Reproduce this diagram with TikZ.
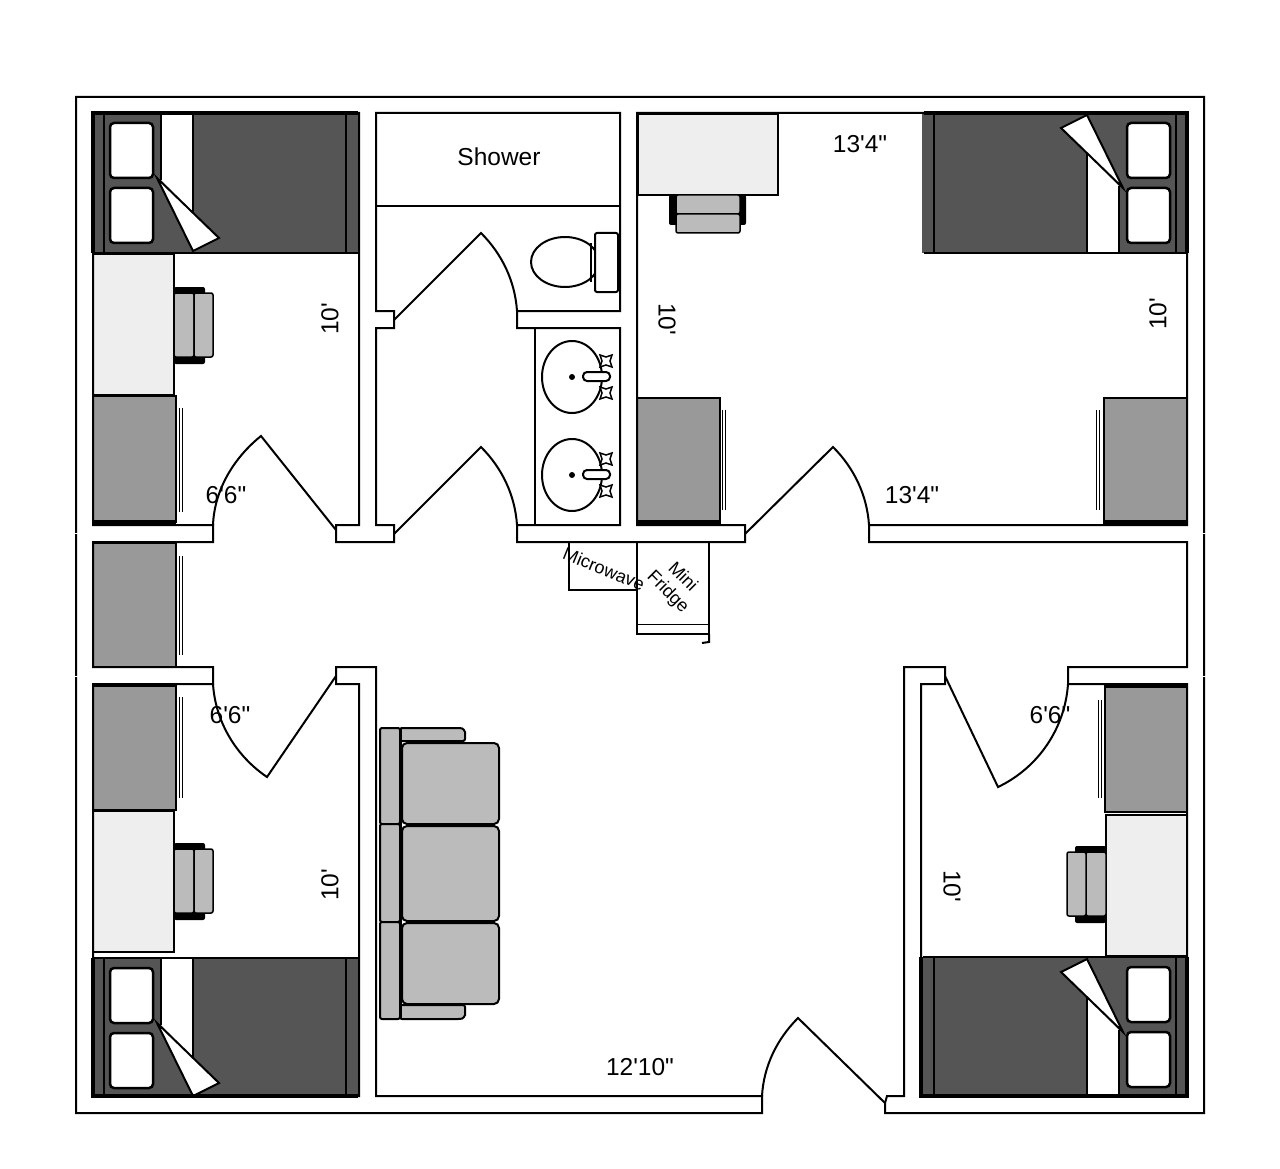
\documentclass[tikz,border=0pt]{standalone}
\usepackage{fontspec}
\usepackage{tikz}
\newfontfamily\plainfont{Liberation Sans}
\definecolor{bedgray}{HTML}{555555}
\definecolor{closetgray}{HTML}{999999}
\definecolor{seatgray}{HTML}{BBBBBB}
\definecolor{deskgray}{HTML}{EEEEEE}
\tikzset{
  wall/.style={draw=black, line width=2pt, miter limit=4},
  door/.style={draw=black, line width=2pt},
  bedbase/.style={fill=bedgray},
  bedline/.style={draw=black, line width=2pt},
  heavy/.style={draw=black, line width=3.5pt},
  pillow/.style={draw=black, fill=white, line width=2.5pt, rounded corners=4pt},
  fold/.style={draw=black, fill=white, line width=2pt, line join=miter},
  closet/.style={draw=black, fill=closetgray, line width=2.5pt},
  slide/.style={draw=black, line width=0.8pt},
  desk/.style={draw=black, fill=deskgray, line width=2pt},
  seat/.style={draw=black, fill=seatgray, line width=1.5pt, rounded corners=2pt},
  cushion/.style={draw=black, fill=seatgray, line width=2pt, rounded corners=5pt},
  fixture/.style={draw=black, fill=white, line width=2pt},
  dimtext/.style={font=\plainfont\fontsize{24.5}{28}\selectfont, inner sep=0pt},
  smalltext/.style={font=\plainfont\fontsize{18}{21}\selectfont, inner sep=0pt, align=center},
}
\newcommand{\bedunit}{
  \fill[bedbase] (93,113) rectangle (358,253);
  \fill[white] (161,113) -- (193,113) -- (193,213) -- (161,180) -- cycle;
  \draw[bedline] (161,113) -- (161,180);
  \draw[bedline] (193,113) -- (193,213);
  \draw[bedline] (104,113) -- (104,253);
  \draw[bedline] (346,113) -- (346,253);
  \draw[pillow] (110,123) rectangle (153,178);
  \draw[pillow] (110,188) rectangle (153,243);
  \draw[fold] (157,178) -- (219,238) -- (193,251) -- cycle;
}
\newcommand{\chairunit}{
  \fill[rounded corners=2pt] (174,287) rectangle (205,364);
  \draw[seat] (174,293) rectangle (194,357);
  \draw[seat] (194,293) rectangle (213,357);
}
\newcommand{\sinkunit}{
  \draw[fixture] (572,377) ellipse (30 and 36);
  \fill (572,377) circle (3);
  \draw[fixture, rounded corners=4pt] (583,372) rectangle (610,381);
  \draw[line width=1.5pt, fill=white] (600,355) -- (606,357) -- (612,355) -- (610,361) -- (612,367) -- (606,365) -- (600,367) -- (602,361) -- cycle;
  \draw[line width=1.5pt, fill=white] (600,387) -- (606,389) -- (612,387) -- (610,393) -- (612,399) -- (606,397) -- (600,399) -- (602,393) -- cycle;
}
\begin{document}
\begin{tikzpicture}[x=1pt, y=-1pt]
  \useasboundingbox (0,0) rectangle (1280,1169);

  \draw[closet] (93,396) rectangle (176,522);
  \draw[closet] (93,543) rectangle (176,667);
  \draw[closet] (93,685) rectangle (176,810);
  \draw[closet] (637,398) rectangle (720,523);
  \draw[closet] (1104,398) rectangle (1187,523);
  \draw[closet] (1105,686) rectangle (1187,812);
  \draw[heavy] (93,522) -- (176,522);
  \draw[heavy] (93,685) -- (176,685);
  \draw[heavy] (637,522) -- (720,522);
  \draw[heavy] (1104,522) -- (1187,522);
  \draw[heavy] (1105,686) -- (1187,686);
  \draw[slide] (179,408) -- (179,512);
  \draw[slide] (182,408) -- (182,512);
  \draw[slide] (179,556) -- (179,655);
  \draw[slide] (182,556) -- (182,655);
  \draw[slide] (179,697) -- (179,798);
  \draw[slide] (182,697) -- (182,798);
  \draw[slide] (722,410) -- (722,510);
  \draw[slide] (725,410) -- (725,510);
  \draw[slide] (1096,410) -- (1096,510);
  \draw[slide] (1099,410) -- (1099,510);
  \draw[slide] (1098,700) -- (1098,798);
  \draw[slide] (1101,700) -- (1101,798);

  \draw[desk] (93,254) rectangle (174,395);
  \draw[desk] (93,811) rectangle (174,952);
  \draw[desk] (638,114) rectangle (778,195);
  \draw[desk] (1106,815) rectangle (1187,956);

  \chairunit
  \begin{scope}[shift={(0,556)}]
    \chairunit
  \end{scope}
  \begin{scope}[shift={(1280,559)}, xscale=-1]
    \chairunit
  \end{scope}
  \fill[rounded corners=2pt] (669,195) rectangle (746,225);
  \draw[seat] (676,195) rectangle (740,214);
  \draw[seat] (676,214) rectangle (740,233);

  \bedunit
  \begin{scope}[shift={(0,845)}]
    \bedunit
  \end{scope}
  \begin{scope}[shift={(1280,366)}, rotate=180]
    \bedunit
  \end{scope}
  \begin{scope}[shift={(1280,1210)}, rotate=180]
    \bedunit
  \end{scope}
  \draw[bedline] (93,253) -- (358,253);
  \draw[bedline] (924,253) -- (1187,253);
  \draw[bedline] (93,958) -- (358,958);
  \draw[bedline] (923,957) -- (1187,957);
  \draw[heavy] (358,113) -- (93,113) -- (93,253);
  \draw[heavy] (924,113) -- (1187,113) -- (1187,253);
  \draw[heavy] (93,958) -- (93,1096) -- (358,1096);
  \draw[heavy] (921,957) -- (921,1096) -- (1187,1096) -- (1187,957);

  \draw[line width=1.5pt] (376,206) -- (620,206);
  \draw[fixture] (565,262) ellipse (34 and 25);
  \draw[line width=1.5pt] (591,243) -- (591,282);
  \draw[fixture, rounded corners=2pt] (595,233) rectangle (618,292);

  \draw[line width=2.5pt] (535,328) -- (535,525);
  \sinkunit
  \begin{scope}[shift={(0,98)}]
    \sinkunit
  \end{scope}

  \draw[line width=2pt] (569,543) -- (569,590) -- (637,590);
  \draw[line width=2pt] (637,543) -- (637,634) -- (709,634) -- (709,543);
  \draw[line width=0.8pt] (637,624) -- (709,624);
  \draw[line width=2pt] (709,634) -- (709,642) -- (702,643);

  \draw[seat, line width=2pt] (400,728) -- (460,728) to[bend left=40] (465,734) -- (465,741) -- (400,741) -- cycle;
  \draw[seat, line width=2pt] (400,1005) -- (465,1005) -- (465,1013) to[bend left=40] (460,1019) -- (400,1019) -- cycle;
  \draw[seat, line width=2pt] (380,728) rectangle (400,824);
  \draw[seat, line width=2pt] (380,824) rectangle (400,922);
  \draw[seat, line width=2pt] (380,922) rectangle (400,1019);
  \draw[line width=3pt] (400,728) -- (400,1019);
  \draw[cushion] (402,743) rectangle (499,824);
  \draw[cushion] (402,826) rectangle (499,921);
  \draw[cushion] (402,923) rectangle (499,1004);

  \draw[wall] (762,1113) -- (76,1113) -- (76,97) -- (1204,97) -- (1204,1113) -- (885,1113) -- (885,1103) -- (887,1096) -- (904,1096) -- (904,667) -- (945,667) -- (945,684) -- (921,684) -- (921,1096) -- (1187,1096) -- (1187,684) -- (1068,684) -- (1068,667) -- (1187,667) -- (1187,542) -- (869,542) -- (869,525) -- (1187,525) -- (1187,113) -- (637,113) -- (637,525) -- (745,525) -- (745,542) -- (517,542) -- (517,525) -- (620,525) -- (620,328) -- (517,328) -- (517,311) -- (620,311) -- (620,113) -- (376,113) -- (376,311) -- (394,311) -- (394,328) -- (376,328) -- (376,525) -- (394,525) -- (394,542) -- (336,542) -- (336,525) -- (359,525) -- (359,113) -- (93,113) -- (93,525) -- (213,525) -- (213,542) -- (93,542) -- (93,667) -- (213,667) -- (213,684) -- (93,684) -- (93,1096) -- (359,1096) -- (359,684) -- (336,684) -- (336,667) -- (376,667) -- (376,1096) -- (762,1096) -- cycle;
  \draw[white, line width=1pt] (74,533) -- (78,533);
  \draw[white, line width=1pt] (74,676) -- (78,676);
  \draw[white, line width=1pt] (1202,533) -- (1206,533);
  \draw[white, line width=1pt] (1202,676) -- (1206,676);

  \draw[door] (213,525) .. controls (214.4,490) and (233.6,458) .. (261,436) -- (336,530);
  \draw[door] (394,320) -- (481,233) .. controls (502,254) and (515,281) .. (517,311);
  \draw[door] (394,534) -- (481,447) .. controls (502,468) and (515,495) .. (517,525);
  \draw[door] (745,534) -- (833,447) .. controls (854,468) and (867,495) .. (869,525);
  \draw[door] (213,684) .. controls (215.5,722) and (236,756) .. (267,777) -- (336,676);
  \draw[door] (945,676) -- (998,787) .. controls (1038,768) and (1065,728.5) .. (1068,684);
  \draw[door] (762,1096) .. controls (763.7,1066) and (777,1039) .. (798,1018) -- (885,1103);

  \node[dimtext] (shower) at (499,157) {Shower};
  \node[dimtext] (wtop) at (860,144) {13'4"};
  \node[dimtext] (wbot) at (912,495) {13'4"};
  \node[dimtext] (widthhall) at (640,1067) {12'10"};
  \node[dimtext] (dtl) at (226,495) {6'6"};
  \node[dimtext] (dbl) at (230,715) {6'6"};
  \node[dimtext] (dbr) at (1050,715) {6'6"};
  \node[dimtext, rotate=90] (htl) at (330,319) {10'};
  \node[dimtext, rotate=90] (hbl) at (330,885) {10'};
  \node[dimtext, rotate=-90] (htrl) at (667,319) {10'};
  \node[dimtext, rotate=90] (htrr) at (1158,314) {10'};
  \node[dimtext, rotate=-90] (hbr) at (952,886) {10'};
  \node[smalltext, rotate=-22] (micro) at (604,569) {Microwave};
  \node[smalltext, rotate=-45] (fridge) at (675,585) {Mini\\Fridge};
\end{tikzpicture}
\end{document}
